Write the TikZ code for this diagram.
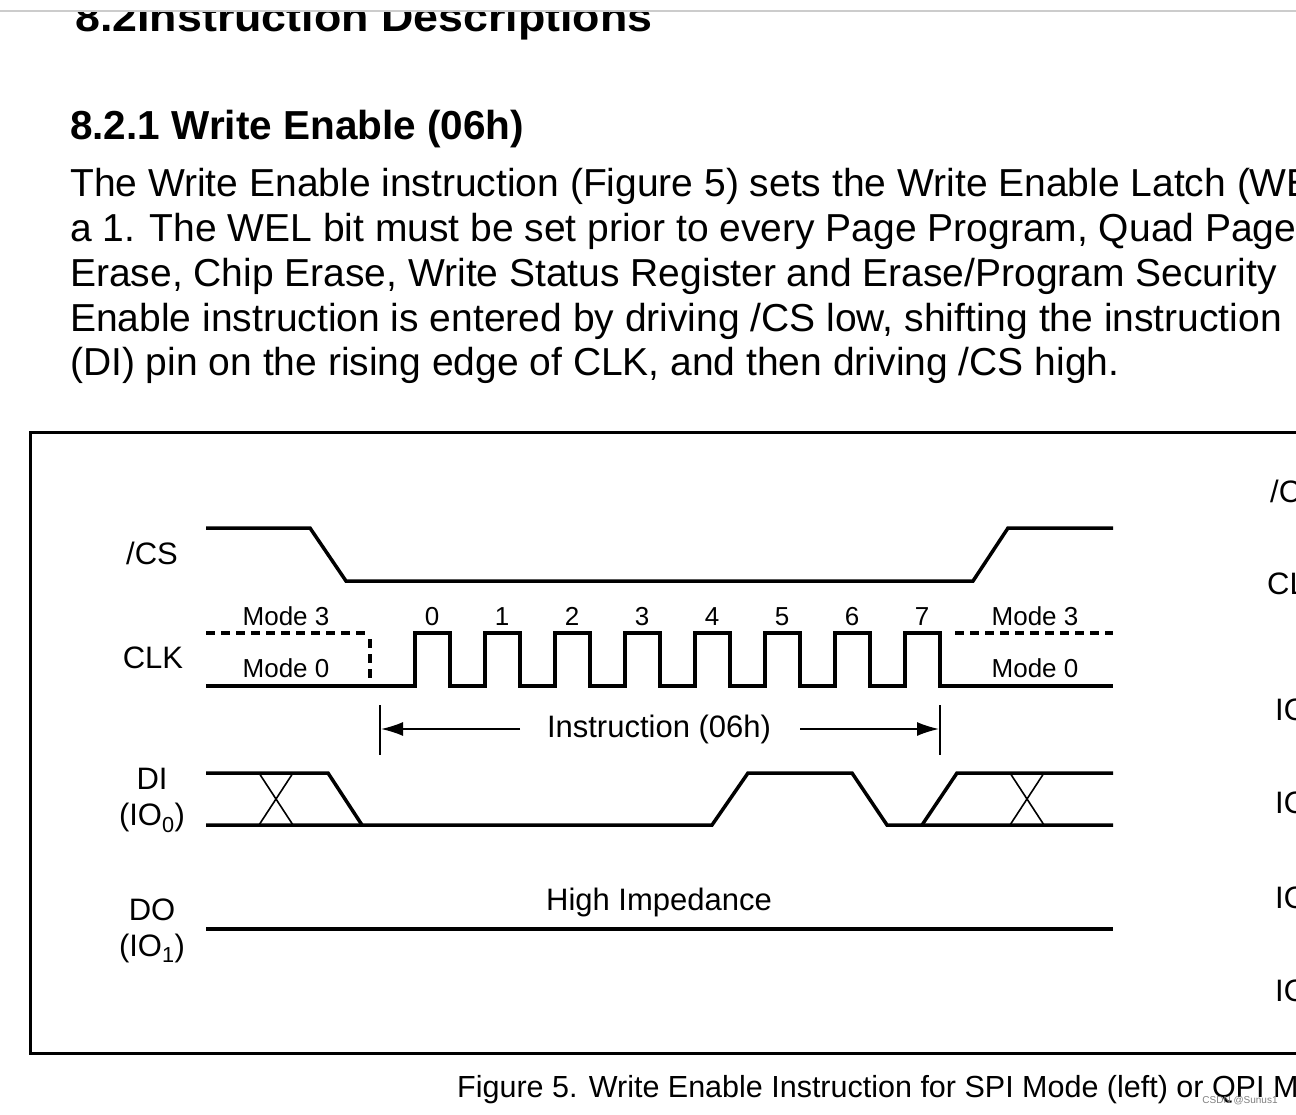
\documentclass[tikz,border=0pt]{standalone}
\usepackage{fontspec}
\setmainfont{Liberation Sans}
\usetikzlibrary{arrows.meta}
\begin{document}
\begin{tikzpicture}[x=1pt,y=-1pt,
  sig/.style={line width=3.5pt,line join=miter},
  thin/.style={line width=1.6pt},
  lbl/.style={font=\fontsize{31}{34}\selectfont,inner sep=0pt},
  md/.style={font=\fontsize{26}{30}\selectfont,inner sep=0pt},
  body/.style={font=\fontsize{39}{42}\selectfont,inner sep=0pt,anchor=base west}]
\useasboundingbox (0,0) rectangle (1296,1115);
\fill[white] (0,0) rectangle (1296,1115);
\begin{scope}
\clip (0,12) rectangle (1296,1115);
\node[inner sep=0pt,anchor=base west] (h0) at (75,32) {\resizebox{577pt}{30pt}{\bfseries 8.2Instruction Descriptions}};
\node[inner sep=0pt,anchor=base west,font=\fontsize{40.5}{44}\selectfont\bfseries] (h1) at (70,140) {8.2.1 Write Enable (06h)};
\node[body] (t1) at (70,197) {The Write Enable instruction (Figure 5) sets the Write Enable Latch (WEL)};
\node[body] (t2) at (70,242) {a 1. The WEL bit must be set prior to every Page Program, Quad Page};
\node[body] (t3) at (70,287) {Erase, Chip Erase, Write Status Register and Erase/Program Security};
\node[body] (t4) at (70,332) {Enable instruction is entered by driving /CS low, shifting the instruction};
\node[body] (t5) at (70,375) {(DI) pin on the rising edge of CLK, and then driving /CS high.};
% frame
\draw[line width=3pt] (1400,432) -- (30,432) -- (30,1053) -- (1400,1053);
% labels
\node[lbl] (lcs) at (152,553) {/CS};
\node[lbl] (lclk) at (153,658) {CLK};
\node[lbl] (ldi) at (152,779) {DI};
\node[lbl] (ldi2) at (152,818) {(IO\textsubscript{0})};
\node[lbl] (ldo) at (152,910) {DO};
\node[lbl] (ldo2) at (152,948) {(IO\textsubscript{1})};
% CS
\draw[sig] (206,528) -- (310,528) -- (346,581) -- (973,581) -- (1008,528) -- (1113,528);
% CLK
\draw[line width=3.5pt,dash pattern=on 9pt off 6pt] (206,633) -- (368,633);
\draw[line width=3.5pt,dash pattern=on 9pt off 6pt] (370,639) -- (370,686);
\draw[line width=3.5pt,dash pattern=on 9pt off 6pt] (955,633) -- (1113,633);
\draw[sig] (206,686) -- (415,686)
  \foreach \i in {0,...,7} { -- ({415+70*\i},633) -- ({450+70*\i},633) -- ({450+70*\i},686) -- ({485+70*\i},686) }
  -- (1113,686);
\foreach \i in {0,...,7} \node[md,anchor=base] (n\i) at ({432+70*\i},625) {\i};
\node[md,anchor=base] (m3l) at (286,625) {Mode 3};
\node[md,anchor=base] (m0l) at (286,677) {Mode 0};
\node[md,anchor=base] (m3r) at (1035,625) {Mode 3};
\node[md,anchor=base] (m0r) at (1035,677) {Mode 0};
% instruction arrow
\draw[thin] (380,705) -- (380,755);
\draw[thin] (940,705) -- (940,755);
\node[lbl] (ins) at (659,729) {Instruction (06h)};
\draw[thin,-{Latex[length=22pt,width=14pt]}] (520,729) -- (381,729);
\draw[thin,-{Latex[length=22pt,width=14pt]}] (800,729) -- (939,729);
% DI
\draw[sig] (206,773) -- (328,773) -- (362,825);
\draw[sig] (206,825) -- (712,825) -- (748,773) -- (852,773) -- (887,825) -- (1113,825);
\draw[sig] (922,825) -- (957,773) -- (1113,773);
\draw[thin] (259,773) -- (293,825) (259,825) -- (293,773);
\draw[thin] (1010,773) -- (1044,825) (1010,825) -- (1044,773);
% DO
\node[lbl] (hi) at (659,902) {High Impedance};
\draw[sig] (206,929) -- (1113,929);
% right cut labels
\node[lbl,anchor=west] (r1) at (1270,491) {/C};
\node[lbl,anchor=west] (r2) at (1267,584) {CL};
\node[lbl,anchor=west] (r3) at (1275,710) {IO};
\node[lbl,anchor=west] (r4) at (1275,803) {IO};
\node[lbl,anchor=west] (r5) at (1275,898) {IO};
\node[lbl,anchor=west] (r6) at (1275,991) {IO};
% caption
\node[inner sep=0pt,anchor=base west,font=\fontsize{30.5}{34}\selectfont] (cap) at (457,1097) {Figure 5. Write Enable Instruction for SPI Mode (left) or QPI M};
\node[inner sep=0pt,font=\fontsize{10}{12}\selectfont,text=gray] (wm) at (1240,1101) {CSDN @Sunus1};
\end{scope}
\draw[line width=2pt,gray!40] (0,11) -- (1296,11);
\end{tikzpicture}
\end{document}
